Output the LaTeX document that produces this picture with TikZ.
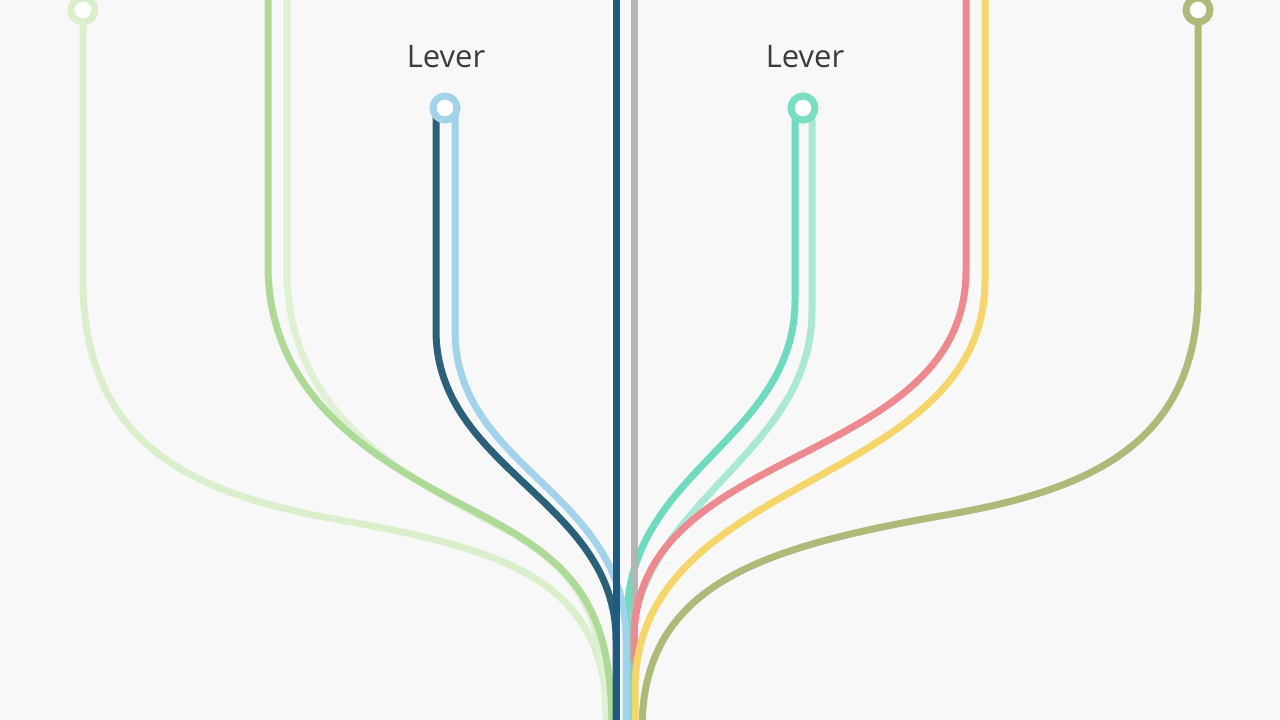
\documentclass[tikz,border=0pt]{standalone}
\usepackage{fontspec}
\setmainfont{Open Sans}
\usetikzlibrary{calc}
\definecolor{bg}{HTML}{F8F8F8}
\definecolor{cDark}{HTML}{1F5A80}
\definecolor{cTeal}{HTML}{2A6078}
\definecolor{cLBlue}{HTML}{A3D3EA}
\definecolor{cGray}{HTML}{B5B5B5}
\definecolor{cAqua}{HTML}{6EDBBE}
\definecolor{cLAqua}{HTML}{AAE8D6}
\definecolor{cRed}{HTML}{EE8990}
\definecolor{cYellow}{HTML}{F6D66A}
\definecolor{cOlive}{HTML}{AEB97A}
\definecolor{cGreen}{HTML}{AEDA98}
\definecolor{cPaleG}{HTML}{E0F0D4}
\definecolor{cFarG}{HTML}{DCEFCC}
\definecolor{txt}{HTML}{3C3C3C}
\tikzset{
  lane/.style={line width=7pt, line cap=round},
  station/.style={circle, draw, line width=7pt, fill=white, minimum size=24pt, inner sep=0pt},
  lbl/.style={font=\fontsize{31}{36}\selectfont, text=txt}
}
\begin{document}
\begin{tikzpicture}[x=1pt,y=-1pt]
\fill[bg] (0,0) rectangle (1280,720);
\useasboundingbox (0,0) rectangle (1280,720);
\clip (0,0) rectangle (1280,720);

% stations
\coordinate (sL) at (83,10);
\coordinate (sB) at (445,108);
\coordinate (sA) at (803,108);
\coordinate (sO) at (1198,10);

% top coordinates
\coordinate (tG) at (268,-10);
\coordinate (tP) at (287,-10);
\coordinate (tD) at (616,-10);
\coordinate (tY) at (634,-10);
\coordinate (tR) at (966,-10);
\coordinate (tYe) at (985,-10);

% bottom coordinates
\coordinate (bFar) at (608,730);
\coordinate (bG) at (612,730);
\coordinate (bP) at (606,730);
\coordinate (bD) at (616,730);
\coordinate (bLB) at (626,730);
\coordinate (bA) at (627,730);
\coordinate (bLA) at (630,730);
\coordinate (bGray) at (634,730);
\coordinate (bYe) at (635,730);
\coordinate (bO) at (642,730);

% far left pale green
\draw[lane, cFarG] (sL) -- (83,280) .. controls (83,450) and (200,495) .. (340,520) .. controls (520,552) and (608,585) .. (bFar);
% pale green
\draw[lane, cPaleG] (tP) -- (287,270) .. controls (287,430) and (430,488) .. (515,535) .. controls (590,580) and (606,630) .. (bP);
% green
\draw[lane, cGreen] (tG) -- (268,265) .. controls (268,420) and (415,478) .. (500,525) .. controls (580,570) and (612,615) .. (bG);

% right side
\draw[lane, cOlive] (sO) -- (1198,290) .. controls (1198,450) and (1080,492) .. (940,516) .. controls (760,548) and (642,585) .. (bO);
\draw[lane, cLAqua] ($(sA)+(9,0)$) -- (812,310) .. controls (812,460) and (630,500) .. (630,660) -- (bLA);
\draw[lane, cAqua] ($(sA)+(-8,0)$) -- (795,300) .. controls (795,440) and (627,470) .. (627,620) -- (bA);

% left blues
\draw[lane, cLBlue] ($(sB)+(10,0)$) -- (455,330) .. controls (455,470) and (626,490) .. (626,640) -- (bLB);
\draw[lane, cTeal] ($(sB)+(-9,0)$) -- (436,330) .. controls (436,470) and (616,500) .. (616,640) -- (bD);

% trunks
\draw[lane, cGray] (tY) -- (bGray);
\draw[lane, cDark] (tD) -- (bD);

\draw[lane, cRed] (tR) -- (966,270) .. controls (966,470) and (634,440) .. (634,640) -- (634,660);
\draw[lane, cYellow] (tYe) -- (985,280) .. controls (985,490) and (635,470) .. (635,690) -- (bYe);

% station circles
\node[station, draw=cFarG] (nL) at (sL) {};
\node[station, draw=cLBlue] (nB) at (sB) {};
\node[station, draw=cAqua!80!cLAqua] (nA) at (sA) {};
\node[station, draw=cOlive] (nO) at (sO) {};

% labels
\node[lbl] (l1) at (446,57) {Lever};
\node[lbl] (l2) at (805,57) {Lever};
\end{tikzpicture}
\end{document}
